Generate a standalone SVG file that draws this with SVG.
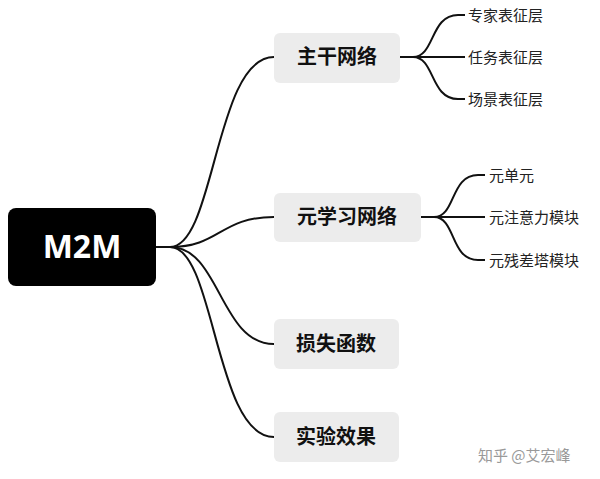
<svg xmlns="http://www.w3.org/2000/svg" width="600" height="479" viewBox="0 0 600 479">
<style>
.c{fill:none;stroke:#111;stroke-width:2}
.n{fill:#ececec}
.t{font-family:"Noto Sans CJK SC",sans-serif;font-size:20px;font-weight:bold;fill:#111}
.l{font-family:"Noto Sans CJK SC",sans-serif;font-size:15px;fill:#222}
</style>
<rect width="600" height="479" fill="#fff"/>
<g id="connectors">
<path class="c" d="M156 247 H170 C215 247 215 57 274 57"/>
<path class="c" d="M170 247 C220 247 220 217 274 217"/>
<path class="c" d="M170 247 C220 247 220 344 274 344"/>
<path class="c" d="M170 247 C215 247 215 437 274 437"/>
<path class="c" d="M400 57 H413 C435 57 430 15 458 15 H465"/>
<path class="c" d="M413 57 H465"/>
<path class="c" d="M413 57 C435 57 430 99 458 99 H465"/>
<path class="c" d="M421 217 H434 C456 217 450 175 478 175 H485"/>
<path class="c" d="M434 217 H485"/>
<path class="c" d="M434 217 C456 217 450 260 478 260 H485"/>
</g>
<g id="root"><rect x="8" y="208" width="148" height="78" rx="8" fill="#000"/><text x="82" y="258" text-anchor="middle" font-family="Noto Sans,sans-serif" font-weight="bold" font-size="32" fill="#fff">M2M</text></g>
<g id="n1"><rect class="n" x="274" y="33" width="126" height="50" rx="6"/><text class="t" x="337" y="64" text-anchor="middle">主干网络</text></g>
<g id="n2"><rect class="n" x="274" y="193" width="147" height="49" rx="6"/><text class="t" x="347" y="224" text-anchor="middle">元学习网络</text></g>
<g id="n3"><rect class="n" x="274" y="319" width="125" height="50" rx="6"/><text class="t" x="336" y="351" text-anchor="middle">损失函数</text></g>
<g id="n4"><rect class="n" x="274" y="412" width="125" height="50" rx="6"/><text class="t" x="336" y="444" text-anchor="middle">实验效果</text></g>
<g id="l1"><text class="l" x="468" y="21">专家表征层</text></g>
<g id="l2"><text class="l" x="468" y="63">任务表征层</text></g>
<g id="l3"><text class="l" x="468" y="105">场景表征层</text></g>
<g id="l4"><text class="l" x="489" y="181">元单元</text></g>
<g id="l5"><text class="l" x="489" y="223">元注意力模块</text></g>
<g id="l6"><text class="l" x="489" y="266">元残差塔模块</text></g>
<text x="478" y="461" font-family="Noto Sans CJK SC,sans-serif" font-size="15" fill="#999">知乎 @艾宏峰</text>
</svg>
